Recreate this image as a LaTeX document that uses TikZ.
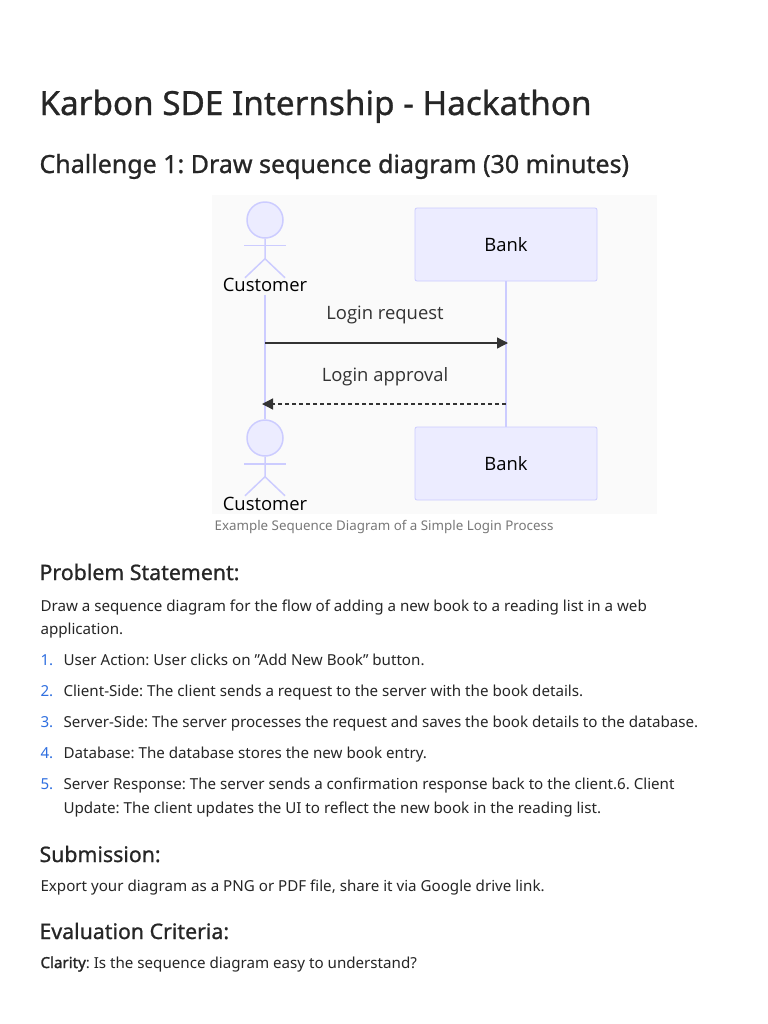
\documentclass[tikz,border=0pt]{standalone}
\usepackage{fontspec}
\setmainfont{Noto Sans}
\newfontfamily\headfont{Noto Sans}[FakeBold=0.9]
\newfontfamily\strongfont{Noto Sans}[FakeBold=1.6]
\newfontfamily\diagfont{Open Sans}
\usetikzlibrary{arrows.meta,positioning}
\definecolor{lilac}{HTML}{CCCCFF}
\definecolor{lilacfill}{HTML}{ECECFF}
\definecolor{linkblue}{HTML}{2F6FE0}
\definecolor{capgray}{HTML}{787878}
\definecolor{msgdark}{HTML}{333333}
\tikzset{
  actor/.style={draw=lilac,fill=lilacfill,line width=1.5pt},
  lifeline/.style={draw=lilac,line width=1.5pt},
  bankbox/.style={draw=lilac,fill=lilacfill,line width=0.8pt,rounded corners=2pt,
    minimum width=182bp,minimum height=73bp,font=\diagfont\fontsize{18.5}{22}\selectfont},
  msg/.style={draw=msgdark,line width=1.3pt,-{Triangle[length=11bp,width=11bp]}},
  msglabel/.style={font=\diagfont\fontsize{18.5}{22}\selectfont,text=msgdark},
  body/.style={anchor=base west,font=\fontsize{15.2}{18}\selectfont,text=black!85},
  num/.style={anchor=base west,font=\fontsize{15.2}{18}\selectfont,text=linkblue},
  heading/.style={anchor=base west,font=\headfont\fontsize{21.4}{24}\selectfont,text=black!85}
}
\newcommand{\stickman}[2]{% name, head centre
  \node[circle,actor,minimum size=36bp,inner sep=0pt] (#1) at (#2) {};
  \draw[lifeline] (#1.south) -- ++(0,-20bp) -- ++(-20bp,-19bp);
  \draw[lifeline] (#1.south) ++(0,-20bp) -- ++(20bp,-19bp);
  \draw[lifeline] (#1.south) ++(-21bp,-7bp) -- ++(42bp,0);
}
\newcommand{\dq}{\symbol{34}}
\begin{document}
\frenchspacing
\begin{tikzpicture}[x=1bp,y=-1bp]
  \useasboundingbox[fill=white] (0,0) rectangle (768,1024);
  % title and challenge
  \node[anchor=base west,font=\headfont\fontsize{33.4}{38}\selectfont,text=black!85] (title) at (36,115) {Karbon SDE Internship - Hackathon};
  \node[anchor=base west,font=\headfont\fontsize{25.1}{28}\selectfont,text=black!85] (chal) at (36,173) {Challenge 1: Draw sequence diagram (30 minutes)};

  % diagram background
  \fill[black!2] (212,195) rectangle (657,514);

  % participants
  \stickman{custHead}{265,220}
  \node[msglabel,text=black] (custTop) at (265,285) {Customer};
  \node[bankbox] (bankTop) at (506,244.5) {Bank};
  \stickman{custHeadB}{265,438}
  \node[msglabel,text=black] (custBot) at (265,504) {Customer};
  \node[bankbox] (bankBot) at (506,463.5) {Bank};

  % lifelines
  \draw[lifeline] (custTop.south) -- (custHeadB.north);
  \draw[lifeline] (bankTop.south) -- (bankBot.north);

  % messages
  \coordinate (reqFrom) at (265,343);
  \coordinate (reqTo) at (508,343);
  \coordinate (appFrom) at (506,404);
  \coordinate (appTo) at (262,404);
  \node[msglabel] (reqLabel) at (385,315) {Login request};
  \draw[msg] (reqFrom) -- (reqTo);
  \node[msglabel] (appLabel) at (385,377) {Login approval};
  \draw[msg,dash pattern=on 4bp off 3bp] (appFrom) -- (appTo);

  \node[font=\fontsize{13.4}{15}\selectfont,text=capgray] (caption) at (384,527) {Example Sequence Diagram of a Simple Login Process};

  % problem statement
  \node[heading] (probHead) at (36,580) {Problem Statement:};
  \node[body] (p1) at (37,611) {Draw a sequence diagram for the flow of adding a new book to a reading list in a web};
  \node[body] (p2) at (37,634) {application.};
  \node[num] (n1) at (37,665) {1.};
  \node[body] (i1) at (60,665) {User Action: User clicks on \dq Add New Book\dq{} button.};
  \node[num] (n2) at (37,696) {2.};
  \node[body] (i2) at (60,696) {Client-Side: The client sends a request to the server with the book details.};
  \node[num] (n3) at (37,727) {3.};
  \node[body] (i3) at (60,727) {Server-Side: The server processes the request and saves the book details to the database.};
  \node[num] (n4) at (37,758) {4.};
  \node[body] (i4) at (60,758) {Database: The database stores the new book entry.};
  \node[num] (n5) at (37,789) {5.};
  \node[body] (i5) at (60,789) {Server Response: The server sends a confirmation response back to the client.6. Client};
  \node[body] (i5b) at (60,813) {Update: The client updates the UI to reflect the new book in the reading list.};

  % submission
  \node[heading] (subHead) at (36,862) {Submission:};
  \node[body] (sub) at (37,891) {Export your diagram as a PNG or PDF file, share it via Google drive link.};

  % evaluation
  \node[heading] (evalHead) at (36,939) {Evaluation Criteria:};
  \node[body] (crit) at (37,968) {{\strongfont Clarity}: Is the sequence diagram easy to understand?};
\end{tikzpicture}
\end{document}
